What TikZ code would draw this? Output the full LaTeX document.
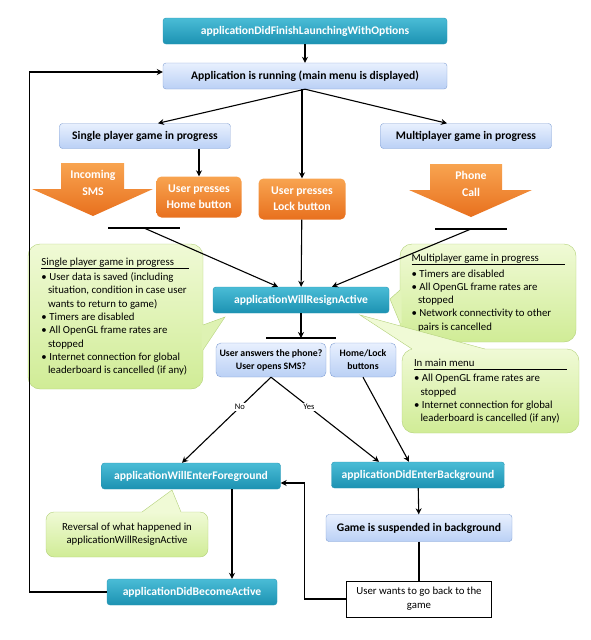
\documentclass[tikz,border=0pt]{standalone}
\usepackage{fontspec}
\setmainfont{Carlito}
\usetikzlibrary{arrows.meta}
\definecolor{tealtop}{RGB}{74,188,214}
\definecolor{tealbot}{RGB}{28,146,178}
\definecolor{tealline}{RGB}{40,150,180}
\definecolor{bluetop}{RGB}{232,240,254}
\definecolor{bluebot}{RGB}{186,208,245}
\definecolor{blueline}{RGB}{130,160,212}
\definecolor{orangetop}{RGB}{248,164,80}
\definecolor{orangebot}{RGB}{232,112,30}
\definecolor{greentop}{RGB}{240,250,214}
\definecolor{greenbot}{RGB}{208,236,150}
\definecolor{greenline}{RGB}{178,208,120}
\tikzset{
  callbox/.style={draw=tealline, top color=tealtop, bottom color=tealbot, rounded corners=3pt,
    text=white, inner sep=0pt, font=\fontsize{11.6}{13}\selectfont\bfseries},
  statebox/.style={draw=blueline, top color=bluetop, bottom color=bluebot, rounded corners=3pt,
    inner sep=0pt, align=center, font=\fontsize{11.6}{13}\selectfont\bfseries},
  askbox/.style={statebox, rounded corners=5pt, font=\fontsize{9.8}{13}\selectfont\bfseries},
  userbox/.style={top color=orangetop, bottom color=orangebot, rounded corners=5pt, text=white,
    inner sep=0pt, align=center, font=\fontsize{11.8}{16}\selectfont\bfseries},
  notebox/.style={draw=greenline, top color=greentop, bottom color=greenbot, rounded corners=12pt,
    inner sep=0pt, align=left, font=\fontsize{10.8}{13.3}\selectfont},
  wedge/.style={fill=#1},
  flow/.style={-{Stealth[length=6pt,width=6pt]}, line width=1.1pt},
  bar/.style={line width=1.3pt},
}
\begin{document}
\begin{tikzpicture}[x=1pt, y=-1pt]
  \useasboundingbox (0,0) rectangle (591,640);
  % top of the flow
  \node[callbox, minimum width=284pt, minimum height=26pt] (finish) at (305,31) {applicationDidFinishLaunchingWithOptions};
  \node[statebox, minimum width=284pt, minimum height=26pt] (running) at (305,76) {Application is running (main menu is displayed)};
  \node[statebox, minimum width=171pt, minimum height=25pt] (single) at (145,136) {Single player game in progress};
  \node[statebox, minimum width=171pt, minimum height=25pt] (multi) at (466,136) {Multiplayer game in progress};
  % interruptions
  \shade[top color=orangetop, bottom color=orangebot] (61,163) -- (124,163) -- (124,189) -- (153,189) -- (93,216) -- (32,189) -- (61,189) -- cycle;
  \node[text=white, align=center, font=\fontsize{11.8}{17}\selectfont\bfseries] (sms) at (93,183) {Incoming\\SMS};
  \shade[top color=orangetop, bottom color=orangebot] (430,164) -- (502,164) -- (502,190) -- (532,190) -- (471,217) -- (409,190) -- (430,190) -- cycle;
  \node[text=white, align=center, font=\fontsize{11.8}{17}\selectfont\bfseries] (phone) at (471,184) {Phone\\Call};
  \node[userbox, minimum width=85pt, minimum height=41pt] (home) at (199,197) {User presses\\Home button};
  \node[userbox, minimum width=87pt, minimum height=41pt] (lock) at (302,199) {User presses\\Lock button};
  \coordinate (smsbar) at (144,228);
  \coordinate (phonebar) at (471,229);
  \draw[bar] ([xshift=-36pt]smsbar) -- ([xshift=36pt]smsbar);
  \draw[bar] ([xshift=-36pt]phonebar) -- ([xshift=36pt]phonebar);
  % resign active
  \node[callbox, minimum width=176pt, minimum height=26pt] (resign) at (301,300) {applicationWillResignActive};
  \coordinate (decbar) at (301,338);
  \draw[bar] ([xshift=-35pt]decbar) -- ([xshift=35pt]decbar);
  \node[askbox, minimum width=110pt, minimum height=34pt] (answer) at (271,360) {User answers the phone?\\User opens SMS?};
  \node[askbox, minimum width=66pt, minimum height=34pt] (homelock) at (363,360) {Home/Lock\\buttons};
  % notes
  \node[notebox, minimum width=175pt, minimum height=145pt] (singlenote) at (115.5,316.5) {Single player game in progress\\[-10pt]\rule{148pt}{0.5pt}\\[-1pt]
    \textbullet\ User data is saved (including\\
    \hspace*{6.5pt}situation, condition in case user\\
    \hspace*{6.5pt}wants to return to game)\\
    \textbullet\ Timers are disabled\\
    \textbullet\ All OpenGL frame rates are\\
    \hspace*{6.5pt}stopped\\
    \textbullet\ Internet connection for global\\
    \hspace*{6.5pt}leaderboard is cancelled (if any)};
  \fill[wedge=greentop!45!greenbot] (225,317) -- (203,325) -- (201.5,325) -- (201.5,350) -- (203,350) -- cycle;
  \draw[greenline] (203,325) -- (225,317) -- (203,350);
  \node[notebox, minimum width=176pt, minimum height=98pt] (multinote) at (488,293) {Multiplayer game in progress\\[-10pt]\rule{153pt}{0.5pt}\\[-1pt]
    \textbullet\ Timers are disabled\\
    \textbullet\ All OpenGL frame rates are\\
    \hspace*{6.5pt}stopped\\
    \textbullet\ Network connectivity to other\\
    \hspace*{6.5pt}pairs is cancelled};
  \fill[wedge=greentop!55!greenbot] (390,299) -- (400,290) -- (401.5,290) -- (401.5,323) -- (400,323) -- cycle;
  \draw[greenline] (400,290) -- (390,299) -- (400,323);
  \node[notebox, minimum width=177pt, minimum height=84pt] (menunote) at (490.5,391) {In main menu\\[-10pt]\rule{153pt}{0.5pt}\\[-1pt]
    \textbullet\ All OpenGL frame rates are\\
    \hspace*{6.5pt}stopped\\
    \textbullet\ Internet connection for global\\
    \hspace*{6.5pt}leaderboard is cancelled (if any)};
  \fill[wedge=greentop] (360,315) -- (412,349) -- (412,350.5) -- (485,350.5) -- (485,349) -- cycle;
  \draw[greenline] (412,349) -- (360,315) -- (485,349);
  % background and foreground
  \node[callbox, minimum width=179pt, minimum height=26pt] (foreground) at (191,476) {applicationWillEnterForeground};
  \node[callbox, minimum width=173pt, minimum height=26pt] (background) at (418,475) {applicationDidEnterBackground};
  \node[statebox, minimum width=186pt, minimum height=27pt] (suspended) at (419,528) {Game is suspended in background};
  \node[draw, line width=0.8pt, fill=white, minimum width=145pt, minimum height=36pt, inner sep=0pt, align=center,
    font=\fontsize{10.8}{14}\selectfont] (wants) at (419,599) {User wants to go back to the\\game};
  \node[callbox, minimum width=170pt, minimum height=26pt] (active) at (192,592) {applicationDidBecomeActive};
  \node[notebox, rounded corners=8pt, align=center, minimum width=162pt, minimum height=45pt] (reversal) at (127,534.5) {Reversal of what happened in\\applicationWillResignActive};
  \fill[wedge=greentop] (172,490) -- (142,512) -- (142,513.5) -- (181,513.5) -- (181,512) -- cycle;
  \draw[greenline] (142,512) -- (172,490) -- (181,512);
  % connectors
  \draw[flow] (finish) -- (running);
  \draw[flow] (running.south) -- ([xshift=13pt]single.north);
  \draw[flow] (running.south) -- ([xshift=-19pt]multi.north);
  \draw[flow] (lock.north |- running.south) -- (lock.north);
  \draw[flow] (home.north |- single.south) -- (home.north);
  \draw[flow] (smsbar) -- ([xshift=-23pt]resign.north);
  \draw[flow] (lock) -- (resign);
  \draw[flow] (phonebar) -- ([xshift=31pt]resign.north);
  \draw[flow] (resign) -- (decbar);
  \draw[flow] (answer.south) -- node[pos=.35, fill=white, inner sep=1pt, font=\fontsize{8.5}{9}\selectfont] {No} ([xshift=-9pt]foreground.north);
  \draw[flow] (answer.south) -- node[pos=.35, fill=white, inner sep=1pt, font=\fontsize{8.5}{9}\selectfont] {Yes} ([xshift=-39pt]background.north);
  \draw[flow] (homelock.south) -- ([xshift=-9pt]background.north);
  \draw[flow] ([xshift=41pt]foreground.south) -- ([xshift=41pt]foreground.south |- active.north);
  \draw[flow] (background) -- (suspended);
  \draw[line width=1.1pt] (suspended) -- (wants);
  \draw[flow] (wants.west) -- ++(-42,0) |- ([yshift=-7pt]foreground.east);
  \draw[flow] (active.west) -- ++(-77,0) |- ([yshift=4pt]running.west);
\end{tikzpicture}
\end{document}
